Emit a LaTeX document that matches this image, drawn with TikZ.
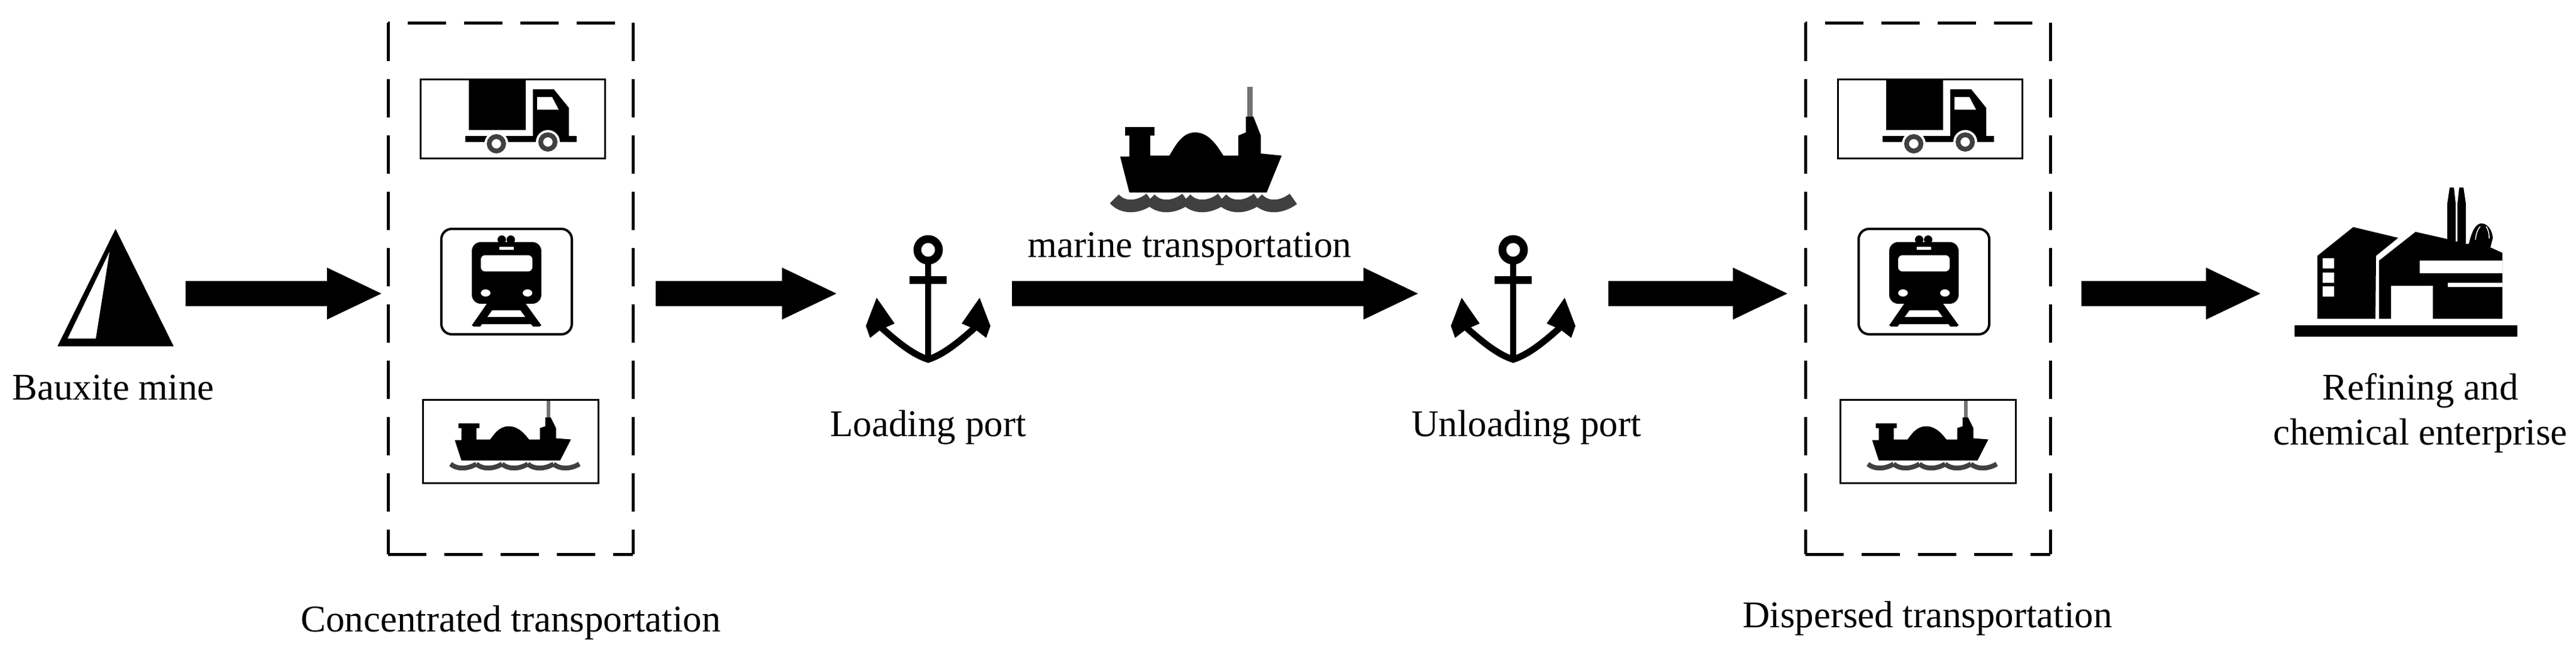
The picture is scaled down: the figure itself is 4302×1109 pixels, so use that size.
\documentclass[tikz,border=0pt]{standalone}
\usepackage{fontspec}
\setmainfont{Liberation Serif}
\usetikzlibrary{arrows.meta}

\tikzset{
	caption/.style={inner sep=0pt,align=center,font=\fontsize{12.6}{15}\selectfont},
	spot/.style={inner sep=0pt,outer sep=0pt,minimum height=4pt},
	dashbox/.style={inner sep=0pt,outer sep=0pt,minimum width=81.8pt,minimum height=177.4pt},
	framedash/.style={line width=1pt,dash pattern=on 12.8pt off 6pt},
	truckbox/.style={draw,inner sep=0pt,line width=.6pt,minimum width=61.6pt,minimum height=26.4pt},
	railbox/.style={draw,inner sep=0pt,line width=.8pt,rounded corners=3.5pt,minimum width=43.6pt,minimum height=35.2pt},
	shipbox/.style={draw,inner sep=0pt,line width=.6pt,minimum width=58.6pt,minimum height=27.8pt},
	bigarrow/.style={line width=8.4pt,-{Triangle[length=18.8pt,width=15.8pt]}},
	wavewidth/.style={line width=1.6pt},
	truckicon/.pic={
		\fill (-73,-65) rectangle (22,19);
		\fill (34,-49) -- (69,-49) -- (94,-18) -- (94,30) -- (34,30) -- cycle;
		\fill[white] (41,-36) -- (66,-36) -- (77,-15) -- (41,-15) -- cycle;
		\fill (-79,29) rectangle (107,39);
		\fill[white] (-27,42) circle (4pt) (59,39) circle (4pt);
		\draw[black!75,line width=1.6pt] (-27,42) circle (2.4pt) (59,39) circle (2.4pt);
	},
	railicon/.pic={
		\fill[rounded corners=3pt] (-58,-66) rectangle (58,37);
		\fill (-8,-70) circle (1.4pt) (7,-70) circle (1.4pt);
		\fill[white] (-12,-58) rectangle (12,-53);
		\fill[white,rounded corners=1.4pt] (-43,-44) rectangle (43,-17);
		\fill[white] (-35,19) ellipse (1.6pt and 1.2pt) (35,19) ellipse (1.6pt and 1.2pt);
		\fill (-33,37) -- (32,37) -- (58,73) -- (55,75) -- (44,75) -- (41,71) -- (-41,71) -- (-44,75) -- (-55,75) -- (-58,73) -- cycle;
		\fill[white] (-24,48) -- (23,48) -- (31,59) -- (-32,59) -- cycle;
	},
	shipicon/.pic={
		\fill[black!55] (60,-68) rectangle (66,-40);
		\fill (-93,-2) -- (-82,-2) -- (-82,-22) -- (-87,-22) -- (-87,-30) -- (-52,-30) -- (-52,-22) -- (-57,-22) -- (-57,-3) -- (-34,-3)
			.. controls (-28,-10) and (-20,-25) .. (-3,-25) .. controls (15,-25) and (25,-10) .. (31,-3)
			-- (49,-3) -- (49,-22) -- (58,-25) -- (58,-40) -- (67,-40) -- (76,-22) -- (76,-5) -- (101,-3) -- (83,32) -- (-82,32) -- cycle;
		\foreach \wx in {-100,-57,-14,29,72}
			\draw[black!75,wavewidth] (\wx,38) .. controls (\wx+10,47) and (\wx+28,47) .. (\wx+43,38);
	},
	anchoricon/.pic={
		\draw[line width=2.6pt] (0,-50) circle (3.6pt);
		\draw[line width=2pt] (0,-32) -- (0,128);
		\draw[line width=2.6pt] (-31,0) -- (31,0);
		\draw[line width=2.2pt] (-78,80) .. controls (-50,105) and (-25,125) .. (0,133) .. controls (25,125) and (50,105) .. (78,80);
		\fill (-86,30) -- (-56,73) -- (-79,83) -- (-97,97) -- (-104,77) -- cycle;
		\fill (86,30) -- (56,73) -- (79,83) -- (97,97) -- (104,77) -- cycle;
	},
}

\begin{document}
\begin{tikzpicture}[x=.2pt,y=-.2pt]
	\useasboundingbox (0,0) rectangle (4302,1109);

	% mine
	\node[spot,minimum width=38.8pt] (mine) at (193,490) {};
	\fill (193,382) -- (290,578) -- (96,578) -- cycle;
	\fill[white] (183,420) -- (160,565) -- (113,565) -- cycle;
	\node[caption] (minetext) at (189,647) {Bauxite mine};

	% first group
	\node[dashbox] (concbox) at (852.5,481.5) {};
	\node[truckbox] (conctruck) at (856,198) {};
	\node[railbox] (concrail) at (846,470) {};
	\node[shipbox] (concship) at (852.5,736.5) {};
	\pic at (conctruck) {truckicon};
	\pic at (concrail) {railicon};
	\pic at (concship) {shipicon};
	\node[caption] (conctext) at (853,1039.5) {Concentrated transportation};

	% ports
	\node[spot,minimum width=42pt] (loadport) at (1550,490) {};
	\pic at (1550,467) {anchoricon};
	\node[caption] (loadtext) at (1550,713.5) {Loading port};
	\node[spot,minimum width=42pt] (unloadport) at (2527,490) {};
	\pic at (2527,467) {anchoricon};
	\node[caption] (unloadtext) at (2549,713.5) {Unloading port};
	\pic[xscale=1.39,yscale=1.76,wavewidth/.style={line width=4.2pt}] at (2000,265) {shipicon};
	\node[caption] (marinetext) at (1987,415) {marine transportation};

	% second group
	\node[dashbox] (dispbox) at (3219.5,481.5) {};
	\node[truckbox] (disptruck) at (3223,198) {};
	\node[railbox] (disprail) at (3213,470) {};
	\node[shipbox] (dispship) at (3219.5,736.5) {};
	\pic at (disptruck) {truckicon};
	\pic at (disprail) {railicon};
	\pic at (dispship) {shipicon};
	\node[caption] (disptext) at (3219,1032.5) {Dispersed transportation};

	% dashed frames
	\foreach \frm in {concbox,dispbox} {
		\draw[framedash] (\frm.north west) -- (\frm.south west);
		\draw[framedash] (\frm.south west) -- (\frm.south east);
		\draw[framedash] (\frm.north east) -- (\frm.south east);
		\draw[framedash,dash phase=12.8pt] (\frm.north east) -- (\frm.north west);
	}

	% factory
	\node[spot,minimum width=74.4pt] (factory) at (4018,490) {};
	\fill (3870,427) -- (3930,379) -- (4005,397) -- (3968,427) -- (3967,532) -- (3870,532) -- cycle;
	\fill[white] (3879,431) rectangle (3898,448) (3879,455) rectangle (3898,472) (3879,478) rectangle (3898,495);
	\fill (3973,435) -- (4034,387) -- (4087,399) -- (4087,340) -- (4091,313) -- (4098,313) -- (4101,340) -- (4101,403) -- (4104,403) -- (4104,340) -- (4107,313) -- (4114,313) -- (4118,340) -- (4118,407) -- (4123,407)
		.. controls (4128,385) and (4135,373) .. (4144,373) .. controls (4155,373) and (4162,385) .. (4163,397) -- (4159,413) -- (4179,422) -- (4179,532) -- (4063,532) -- (4063,477) -- (3993,477) -- (3993,532) -- (3973,532) -- cycle;
	\fill[white] (4041,435) rectangle (4179,456) (4088,472) rectangle (4179,479);
	\draw[white,line width=.3pt] (4134,400) .. controls (4135,390) and (4138,382) .. (4142,378) (4152,378) .. controls (4156,384) and (4157,392) .. (4157,398);
	\fill (3832,543) rectangle (4204,562);
	\node[caption] (factorytext) at (4042,690) {Refining and\\chemical enterprise};

	\draw[bigarrow,shorten <=4pt,shorten >=1.6pt] (mine) to (concbox.west |- mine);
	\draw[bigarrow,shorten <=7.6pt,shorten >=9pt] (concbox.east |- loadport) to (loadport);
	\draw[bigarrow,shorten <=7pt,shorten >=10.2pt] (loadport) to (unloadport);
	\draw[bigarrow,shorten <=10.8pt,shorten >=5.4pt] (unloadport) to (dispbox.west |- unloadport);
	\draw[bigarrow,shorten <=10.4pt,shorten >=10.8pt] (dispbox.east |- factory) to (factory);
\end{tikzpicture}
\end{document}
